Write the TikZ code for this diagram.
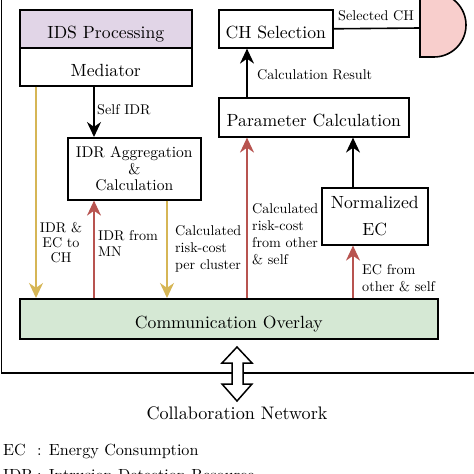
\documentclass[tikz,border=0pt]{standalone}
\usepackage{fontspec}
\setmainfont{lmroman10-regular}[Extension=.otf]
\usetikzlibrary{arrows.meta}
\definecolor{idsfill}{HTML}{E1D5E7}
\definecolor{ovfill}{HTML}{D5E8D4}
\definecolor{dfill}{HTML}{F8CECC}
\definecolor{ylw}{HTML}{D6B656}
\definecolor{rdd}{HTML}{B85450}
\begin{document}
\begin{tikzpicture}[x=1bp,y=-1bp,
 box/.style={draw, line width=1.6bp, anchor=north west, inner sep=0pt, align=center, font=\fontsize{17.7}{21}\selectfont},
 onebox/.style={box, text height=19bp, text depth=0bp},
 lbl/.style={anchor=west, inner sep=0pt, align=left, font=\fontsize{14.2}{17}\selectfont},
 arr/.style={line width=1.6bp, -{Stealth[length=15bp,width=14bp]}},
 yarr/.style={arr, draw=ylw},
 rarr/.style={arr, draw=rdd},
 thin/.style={line width=1.6bp}
]
\clip (0,0) rectangle (474,474);
\fill[white] (0,0) rectangle (474,474);
% outer frame
\draw[line width=1.5bp] (1.5,-5) -- (1.5,373) -- (480,373);
% boxes
\node[onebox, fill=idsfill, minimum width=172bp, minimum height=38bp] (ids) at (19,9) {IDS Processing};
\node[onebox, minimum width=172bp, minimum height=38bp] (med) at (19,47) {Mediator};
\node[box, minimum width=133bp, minimum height=62bp, font=\fontsize{15.6}{16.5}\selectfont] (agg) at (67,137) {IDR Aggregation\\\&\\Calculation};
\node[onebox, minimum width=114bp, minimum height=38bp] (chs) at (218,9) {CH Selection};
\node[onebox, minimum width=190bp, minimum height=39bp] (par) at (218,97) {Parameter Calculation};
\node[box, minimum width=106bp, minimum height=57bp, font=\fontsize{17.7}{27}\selectfont] (nec) at (321,187) {Normalized\\EC};
\node[onebox, fill=ovfill, minimum width=418bp, minimum height=40bp] (ov) at (19,298) {Communication Overlay};
% D shape
\draw[thin, fill=dfill] (420,-7) -- (434,-7) arc(-90:90:32) -- (420,57) -- cycle;
\coordinate (dl) at (420,28);
% x positions of connectors
\coordinate (xa) at (36,0);
\coordinate (xb) at (94,0);
\coordinate (xc) at (167,0);
\coordinate (xd) at (247,0);
\coordinate (xe) at (353,0);
\draw[arr] (med.south -| xb) -- (agg.north -| xb);
\draw[yarr] (med.south -| xa) -- (ov.north -| xa);
\draw[rarr] (ov.north -| xb) -- (agg.south -| xb);
\draw[yarr] (agg.south -| xc) -- (ov.north -| xc);
\draw[rarr] (ov.north -| xd) -- (par.south -| xd);
\draw[rarr] (ov.north -| xe) -- (nec.south -| xe);
\draw[arr] (nec.north -| xe) -- (par.south -| xe);
\draw[arr] (par.north -| xd) -- (chs.south -| xd);
\draw[thin] (chs.east) -- (dl);
% labels
\node[lbl] (l1) at (97,110) {Self IDR};
\node[lbl] (l2) at (257,75) {Calculation Result};
\node[lbl] (l3) at (338,16) {Selected CH};
\node[lbl, anchor=center, align=center, font=\fontsize{14.2}{15}\selectfont] (l4) at (61,243) {IDR \&\\EC to\\CH};
\node[lbl] (l5) at (98,243.5) {IDR from\\MN};
\node[lbl] (l6) at (175,249) {Calculated\\risk-cost\\per cluster};
\node[lbl] (l7) at (252,234.5) {Calculated\\risk-cost\\from other\\\& self};
\node[lbl] (l8) at (362,278.5) {EC from\\other \& self};
% double arrow
\draw[line width=1.5bp, fill=white] (237,347) -- (252,363) -- (243,363) -- (243,384) -- (252,384) -- (237,401) -- (222,384) -- (232,384) -- (232,363) -- (222,363) -- cycle;
\node[font=\fontsize{18.2}{21}\selectfont, inner sep=0pt] (cn) at (237,413) {Collaboration Network};
% legend
\node[anchor=base west, inner sep=0pt, font=\fontsize{16.2}{19}\selectfont] (e1) at (3,455) {EC};
\node[anchor=base west, inner sep=0pt, font=\fontsize{16.2}{19}\selectfont] (e2) at (37,455) {: Energy Consumption};
\node[anchor=base west, inner sep=0pt, font=\fontsize{16.2}{19}\selectfont] (i1) at (3,480) {IDR};
\node[anchor=base west, inner sep=0pt, font=\fontsize{16.2}{19}\selectfont] (i2) at (37,480) {: Intrusion Detection Resource};
\end{tikzpicture}
\end{document}
